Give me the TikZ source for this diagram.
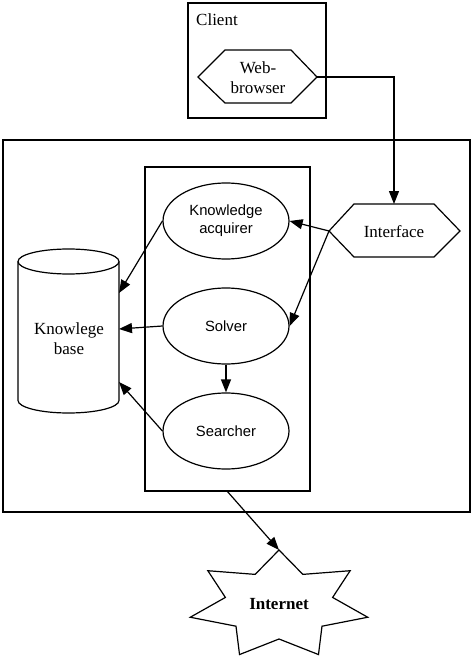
\documentclass[tikz,border=0pt]{standalone}
\usepackage{fontspec}
\setmainfont{Liberation Serif}
\newfontfamily\hvfont{Liberation Sans}
\usetikzlibrary{shapes.geometric,arrows.meta}
\begin{document}
\begin{tikzpicture}[x=1pt,y=-1pt,
  ln/.style={line width=1.2pt, line join=miter},
  arr/.style={ln, -{Triangle[length=13pt,width=10pt]}},
  sertext/.style={font=\fontsize{17}{20}\selectfont, align=center, inner sep=0pt},
  santext/.style={font=\hvfont\fontsize{14.8}{18}\selectfont, align=center},
  ell/.style={ellipse, draw, ln, minimum width=126pt, minimum height=76pt, inner sep=0pt},
  boxx/.style={draw, ln, rectangle, inner sep=0pt}
]
\useasboundingbox (0,0) rectangle (474,671);

% boxes
\node[boxx, minimum width=467pt, minimum height=372pt] (outer) at (236.5,326) {};
\node[boxx, minimum width=165pt, minimum height=324pt] (inner) at (227.5,329) {};
\node[boxx, minimum width=138pt, minimum height=115pt] (client) at (257,60.5) {};
\node[sertext, anchor=west] (clientlbl) at (196,20) {Client};

% web-browser hexagon
\draw[ln] (198,77) coordinate (wbL) -- (225,50) -- (291,50) -- (317,77) coordinate (wbR) -- (291,103) -- (225,103) -- cycle;
\node[sertext] (wb) at (258,78) {Web-\\browser};

% interface hexagon
\draw[ln] (329,231) coordinate (ifL) -- (354,204) -- (434,204) -- (460,231) -- (434,257) -- (354,257) -- cycle;
\coordinate (ifTop) at (394,204);
\node[sertext] (if) at (394,232) {Interface};

% ellipses
\node[ell, santext] (ka) at (226,221) {Knowledge\\acquirer};
\node[ell, santext] (sol) at (226,326) {Solver};
\node[ell, santext] (sea) at (226,431) {Searcher};

% cylinder
\draw[ln] (18,261.5) -- (18,400.5) arc[start angle=180, end angle=360, x radius=50.5pt, y radius=12.5pt] -- (119,261.5);
\draw[ln] (68.5,261.5) ellipse [x radius=50.5pt, y radius=12.5pt];
\node[sertext] (kb) at (69,339) {Knowlege\\base};
\coordinate (kb1) at (119,293);
\coordinate (kb2) at (119,329);
\coordinate (kb3) at (119,382);

% star
\draw[ln] (279,550) coordinate (netTop)
  \foreach \k in {0,...,6} {
    -- ({279+55*cos(90+(\k+0.5)*360/7)}, {605-34*sin(90+(\k+0.5)*360/7)})
    -- ({279+91*cos(90+(\k+1)*360/7)}, {605-55*sin(90+(\k+1)*360/7)})
  } -- cycle;
\node[sertext, font=\bfseries\fontsize{17}{20}\selectfont] (net) at (279,604) {Internet};

% connectors
\draw[arr] (wbR) -- (394,77) -- (ifTop);
\draw[arr] (ifL) -- (ka.east);
\draw[arr] (ifL) -- (sol.east);
\draw[arr] (ka.west) -- (kb1);
\draw[arr] (sol.west) -- (kb2);
\draw[arr] (sea.west) -- (kb3);
\draw[arr] (sol.south) -- (sea.north);
\draw[arr] (inner.south) -- (netTop);
\end{tikzpicture}
\end{document}
